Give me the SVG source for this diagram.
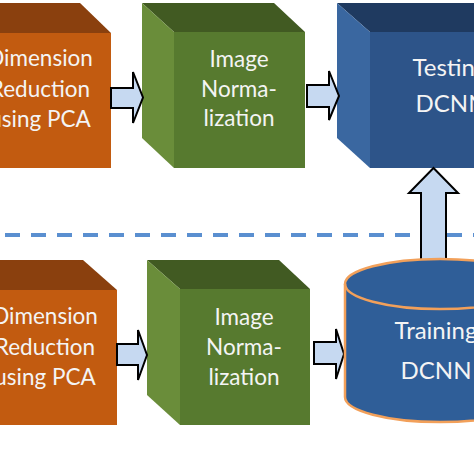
<svg xmlns="http://www.w3.org/2000/svg" width="474" height="474" viewBox="0 0 474 474">
<defs>
<style>
.t{font-family:Lato,"Open Sans","Liberation Sans",sans-serif;fill:#F4F4F4;text-anchor:middle;font-size:22.5px}
.tb{font-size:24px}
.arr{fill:#C6D9F1;stroke:#000;stroke-width:2;stroke-linejoin:miter}
.of{fill:#C25B10}.ot{fill:#8A400E}
.gf{fill:#577A2F}.gl{fill:#6A8D3A}.gt{fill:#415A22}
.bf{fill:#2D5489}.bl{fill:#3A67A0}.bt{fill:#1F3A60}
</style>
</defs>
<rect width="474" height="474" fill="#fff"/>
<g id="dashline"><line x1="5" y1="235" x2="474" y2="235" stroke="#5A8FD0" stroke-width="4" stroke-dasharray="15 11"/></g>
<g id="pca-test">
<polygon class="ot" points="-40,3 80,3 111,33 -20,33"/>
<rect class="of" x="-20" y="33" width="131" height="135"/>
<text class="t" x="40" y="66">Dimension</text>
<text class="t" x="40" y="97">Reduction</text>
<text class="t" x="40" y="127">using PCA</text>
</g>
<g id="norm-test">
<polygon class="gt" points="142,3 274,3 305,32 174,32"/>
<polygon class="gl" points="142,3 174,32 174,168 142,138"/>
<rect class="gf" x="174" y="32" width="131" height="136"/>
<text class="t" x="239" y="67">Image</text>
<text class="t" x="239" y="97">Norma-</text>
<text class="t" x="239" y="126">lization</text>
</g>
<g id="dcnn-test">
<polygon class="bt" points="337,3 510,3 540,32 370,32"/>
<polygon class="bl" points="337,3 370,32 370,168 337,138"/>
<rect class="bf" x="370" y="32" width="170" height="136"/>
<text class="t tb" x="450" y="76">Testing</text>
<text class="t tb" x="451" y="112">DCNN</text>
</g>
<g id="pca-train">
<polygon class="ot" points="-40,260 83,260 117,290 -13,290"/>
<rect class="of" x="-13" y="290" width="130" height="135"/>
<text class="t" x="45" y="324">Dimension</text>
<text class="t" x="45" y="355">Reduction</text>
<text class="t" x="45" y="385">using PCA</text>
</g>
<g id="norm-train">
<polygon class="gt" points="147,260 279,260 310,289 180,289"/>
<polygon class="gl" points="147,260 180,289 180,425 147,395"/>
<rect class="gf" x="180" y="289" width="130" height="136"/>
<text class="t" x="244" y="325">Image</text>
<text class="t" x="244" y="355">Norma-</text>
<text class="t" x="244" y="385">lization</text>
</g>
<g id="connectors">
<polygon class="arr" points="111,88 133,88 133,72 143,97.5 133,123 133,108 111,108"/>
<polygon class="arr" points="307,85 329,85 329,71 339,96 329,120 329,107 307,107"/>
<polygon class="arr" points="117,344 138,344 138,330 147,355 138,380 138,365 117,365"/>
<polygon class="arr" points="314,342 336,342 336,329 344,354 336,379 336,364 314,364"/>
<polygon class="arr" points="421,270 421,193 409,193 433.5,168 458,193 446,193 446,270"/>
</g>
<g id="dcnn-train">
<path d="M345,284 L345,397 A95,25 0 0 0 535,397 L535,284 A95,25 0 0 0 345,284 Z" fill="#2F5E98" stroke="#F2A05A" stroke-width="2.5"/>
<path d="M345,284 A95,25 0 0 0 535,284" fill="none" stroke="#F2A05A" stroke-width="2.5"/>
<text class="t tb" x="436" y="339">Training</text>
<text class="t tb" x="436" y="379">DCNN</text>
</g>
</svg>
